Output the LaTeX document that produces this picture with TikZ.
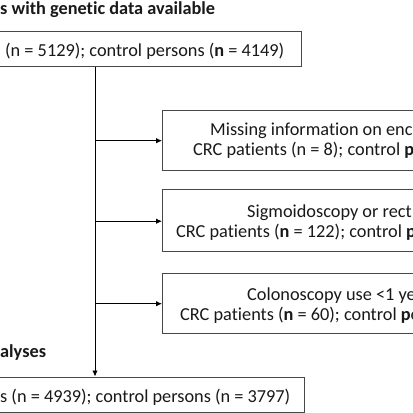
\documentclass[tikz,border=0pt]{standalone}
\usepackage{fontspec}
\setmainfont{Carlito}[RawFeature=-liga]
\usetikzlibrary{arrows.meta}
\begin{document}
\begin{tikzpicture}[x=1pt,y=-1pt,
  box/.style={draw=black!72, line width=1.4pt, fill=white, inner sep=0pt, anchor=north west},
  txt/.style={inner sep=0pt, anchor=base west, font=\fontsize{18.3}{20}\selectfont, text=black!90},
  ttl/.style={inner sep=0pt, anchor=base west, font=\fontsize{18.3}{20}\selectfont\bfseries, text=black!90},
  conn/.style={draw=black, line width=0.9pt},
  arr/.style={conn, -{Latex[length=6pt,width=5.5pt]}}]
\useasboundingbox (0,0) rectangle (413,413);
\fill[white] (0,0) rectangle (413,413);
\clip (0,0) rectangle (413,413);
% boxes
\node[box, minimum width=322pt, minimum height=35pt] (top) at (-21,30.5) {};
\node[box, minimum width=326pt, minimum height=35pt] (bot) at (-22,376.5) {};
\node[box, minimum width=320pt, minimum height=60pt] (b1) at (162,110) {};
\node[box, minimum width=320pt, minimum height=62pt] (b2) at (162,188.5) {};
\node[box, minimum width=320pt, minimum height=60pt] (b3) at (162,273) {};
% texts
\node[ttl] (t0) at (0,14) {s with genetic data available};
\node[txt] (t1) at (5,56) {(n = 5129); control persons (\textbf{n} = 4149)};
\node[txt] (t2) at (210,135) {Missing information on enc};
\node[txt] (t3) at (193,155) {CRC patients (n = 8); control \textbf{p}};
\node[txt] (t4) at (247,217) {Sigmoidoscopy or rect};
\node[txt] (t5) at (176,237) {CRC patients (\textbf{n} = 122); control \textbf{p}};
\node[txt] (t6) at (247,300) {Colonoscopy use <1 ye};
\node[txt] (t7) at (180,320) {CRC patients (\textbf{n} = 60); control \textbf{p}e};
\node[ttl] (t8) at (0,357) {alyses};
\node[txt] (t9) at (0,402) {s (n = 4939); control persons (n = 3797)};
% connectors
\coordinate (spine) at (95,0);
\draw[arr] (top.south -| spine) -- (bot.north -| spine);
\draw[arr] (b1.west -| spine) -- (b1.west);
\draw[arr] ([yshift=-1pt]b2.west -| spine) -- ([yshift=-1pt]b2.west);
\draw[arr] (b3.west -| spine) -- (b3.west);
\end{tikzpicture}
\end{document}
